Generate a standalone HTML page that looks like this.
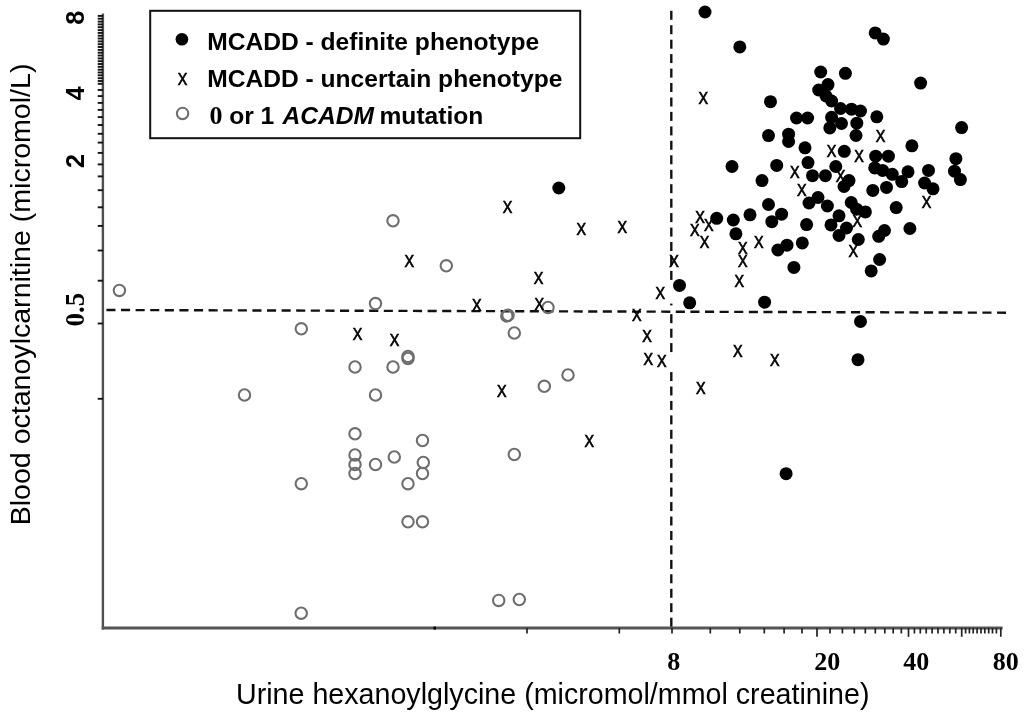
<!DOCTYPE html>
<html><head><meta charset="utf-8"><title>MCADD scatter plot</title>
<style>html,body{margin:0;padding:0;background:#fff}svg{display:block}.s{font-family:"Liberation Sans",sans-serif}.t{font-family:"Liberation Serif",serif;font-weight:bold}.b{font-family:"Liberation Sans",sans-serif;font-weight:bold}.x{font-family:"Liberation Sans",sans-serif;font-size:16.5px;text-anchor:middle;stroke:#000;stroke-width:.7px}</style></head><body>
<svg width="1024" height="716" viewBox="0 0 1024 716">
<rect width="1024" height="716" fill="#fff"/>
<path d="M102.9 13.6V629.4" stroke="#505050" stroke-width="2.4" fill="none"/>
<path d="M101.7 628.1H1002.6" stroke="#555" stroke-width="3" fill="none"/>
<g stroke="#151515" stroke-width="1.9">
<path d="M97.7 15.9H103"/>
<path d="M97.7 18.7H103"/>
<path d="M97.7 21.6H103"/>
<path d="M97.7 24.4H103"/>
<path d="M97.7 27.2H103"/>
<path d="M97.7 30.1H103"/>
<path d="M97.7 32.9H103"/>
<path d="M97.7 35.7H103"/>
<path d="M97.7 38.5H103"/>
<path d="M97.7 41.4H103"/>
<path d="M97.7 44.2H103"/>
<path d="M97.7 47.0H103"/>
<path d="M97.7 49.9H103"/>
<path d="M97.7 52.7H103"/>
<path d="M97.7 55.5H103"/>
<path d="M97.7 58.4H103"/>
<path d="M97.7 61.2H103"/>
<path d="M97.7 64.0H103"/>
<path d="M97.7 66.8H103"/>
<path d="M97.7 69.7H103"/>
<path d="M97.7 72.5H103"/>
<path d="M97.7 75.3H103"/>
<path d="M97.7 78.2H103"/>
<path d="M97.7 81.0H103"/>
<path d="M97.7 83.8H103"/>
<path d="M97.7 90.0H103"/>
<path d="M97.7 96.1H103"/>
<path d="M97.7 102.9H103"/>
<path d="M97.7 109.9H103"/>
<path d="M97.7 117.1H103"/>
<path d="M97.7 125.0H103"/>
<path d="M97.7 133.8H103"/>
<path d="M97.7 142.6H103"/>
<path d="M97.7 152.9H103"/>
<path d="M97.7 164.4H103"/>
<path d="M97.7 176.4H103"/>
<path d="M97.7 190.2H103"/>
<path d="M97.7 207.3H103"/>
<path d="M97.7 225.9H103"/>
<path d="M97.7 250.5H103"/>
<path d="M97.7 280.7H103"/>
<path d="M97.7 323.5H103"/>
<path d="M97.7 398.8H103"/>
</g>
<g stroke="#222" stroke-width="1.7">
<path d="M527.0 628V633.5"/>
<path d="M619.3 628V633.5"/>
<path d="M672.0 628V633.5"/>
<path d="M710.3 628V633.5"/>
<path d="M739.8 628V633.5"/>
<path d="M764.3 628V633.5"/>
<path d="M784.1 628V633.5"/>
<path d="M802.0 628V633.5"/>
<path d="M830.0 628V633.5"/>
<path d="M842.4 628V633.5"/>
<path d="M854.3 628V633.5"/>
<path d="M865.3 628V633.5"/>
<path d="M875.3 628V633.5"/>
<path d="M884.8 628V633.5"/>
<path d="M893.2 628V633.5"/>
<path d="M901.3 628V633.5"/>
<path d="M914.4 628V633.5"/>
<path d="M920.3 628V633.5"/>
<path d="M926.2 628V633.5"/>
<path d="M932.1 628V633.5"/>
<path d="M938.0 628V633.5"/>
<path d="M943.9 628V633.5"/>
<path d="M949.8 628V633.5"/>
<path d="M955.7 628V633.5"/>
<path d="M965.6 628V633.5"/>
<path d="M969.4 628V633.5"/>
<path d="M973.2 628V633.5"/>
<path d="M977.1 628V633.5"/>
<path d="M981.0 628V633.5"/>
<path d="M984.8 628V633.5"/>
<path d="M988.7 628V633.5"/>
<path d="M992.5 628V633.5"/>
<path d="M996.4 628V633.5"/>
<path d="M817.0 628V636.8"/>
<path d="M908.5 628V636.8"/>
<path d="M961.7 628V636.8"/>
<path d="M1000.8 628V636.8"/>
<path d="M434.7 626.6V629.6" stroke="#000" stroke-width="2.4"/>
</g>
<g stroke="#111" stroke-width="2.4" fill="none">
<path d="M106.4 310.0L1006 312.7" stroke-dasharray="9.1 5.5"/>
<path d="M671.3 10.8V19.8"/>
<path d="M671.3 25.2V34.2"/>
<path d="M671.3 39.7V48.7"/>
<path d="M671.3 54.1V63.1"/>
<path d="M671.3 68.6V77.6"/>
<path d="M671.3 83.0V92.0"/>
<path d="M671.3 97.5V106.5"/>
<path d="M671.3 111.9V120.9"/>
<path d="M671.3 126.4V135.4"/>
<path d="M671.3 140.8V149.8"/>
<path d="M671.3 155.3V164.3"/>
<path d="M671.3 169.8V178.8"/>
<path d="M671.3 184.2V193.2"/>
<path d="M671.3 198.7V207.7"/>
<path d="M671.3 213.1V222.1"/>
<path d="M671.3 227.6V236.6"/>
<path d="M671.3 242.0V251.0"/>
<path d="M671.3 256.4V265.4"/>
<path d="M671.3 270.9V279.9"/>
<path d="M671.3 314.2V323.2"/>
<path d="M671.3 328.7V337.7"/>
<path d="M671.3 343.1V352.1"/>
<path d="M671.3 372.1V381.1"/>
<path d="M671.3 386.5V395.5"/>
<path d="M671.3 400.9V409.9"/>
<path d="M671.3 415.4V424.4"/>
<path d="M671.3 429.8V438.8"/>
<path d="M671.3 444.3V453.3"/>
<path d="M671.3 458.8V467.8"/>
<path d="M671.3 473.2V482.2"/>
<path d="M671.3 487.6V496.6"/>
<path d="M671.3 502.1V511.1"/>
<path d="M671.3 516.5V525.5"/>
<path d="M671.3 531.0V540.0"/>
<path d="M671.3 545.4V554.4"/>
<path d="M671.3 559.9V568.9"/>
<path d="M671.3 574.3V583.3"/>
<path d="M671.3 588.8V597.8"/>
<path d="M671.3 603.2V612.2"/>
<path d="M671.3 617.7V626.7"/>
<path d="M671.3 303.6V305.4"/>
</g>
<rect x="150.2" y="10.8" width="430" height="127.4" fill="#fff" stroke="#111" stroke-width="2"/>
<circle cx="181.9" cy="39.2" r="6.3" fill="#000"/>
<text class="x" transform="translate(182.6 85.2) scale(.87 1)">X</text>
<circle cx="182.6" cy="113.4" r="5.7" fill="none" stroke="#6e6e6e" stroke-width="2.1"/>
<g class="b" font-size="24.6">
<text x="207.2" y="49.6">MCADD - definite phenotype</text>
<text x="207.2" y="86.8">MCADD - uncertain phenotype</text>
<text class="t" font-size="26" x="209.5" y="124">0</text>
<text x="229.2" y="124">or 1</text>
<text x="282.5" y="124" font-style="italic">ACADM</text>
<text x="379.5" y="124">mutation</text>
</g>
<text class="s" font-size="28.65" x="236" y="704.2">Urine hexanoylglycine (micromol/mmol creatinine)</text>
<text class="s" font-size="28.55" transform="translate(29.5 525.3) rotate(-90)">Blood octanoylcarnitine (micromol/L)</text>
<text class="b" font-size="25.3" text-anchor="middle" transform="translate(83.9 17.6) rotate(-90)">8</text>
<text class="b" font-size="25.3" text-anchor="middle" transform="translate(83.9 93.5) rotate(-90)">4</text>
<text class="b" font-size="25.3" text-anchor="middle" transform="translate(83.9 161) rotate(-90)">2</text>
<text class="t" font-size="27" text-anchor="middle" transform="translate(84.2 309.6) rotate(-90)">0.5</text>
<text class="t" font-size="26" text-anchor="middle" x="673.8" y="669.8">8</text>
<text class="t" font-size="26" text-anchor="middle" x="827.2" y="669.8">20</text>
<text class="t" font-size="26" text-anchor="middle" x="916.2" y="669.8">40</text>
<text class="t" font-size="26" text-anchor="middle" x="1005.8" y="669.8">80</text>
<g fill="none" stroke="#6e6e6e" stroke-width="2.1">
<circle cx="119.4" cy="290.4" r="5.7"/>
<circle cx="301.3" cy="328.8" r="5.7"/>
<circle cx="393" cy="220.8" r="5.7"/>
<circle cx="446.3" cy="265.8" r="5.7"/>
<circle cx="375.5" cy="303.6" r="5.7"/>
<circle cx="508" cy="315.3" r="5.7"/>
<circle cx="506.8" cy="315.9" r="5.7"/>
<circle cx="548" cy="307.5" r="5.7"/>
<circle cx="514.3" cy="333" r="5.7"/>
<circle cx="568" cy="375" r="5.7"/>
<circle cx="544.3" cy="386.3" r="5.7"/>
<circle cx="514.3" cy="454.5" r="5.7"/>
<circle cx="355" cy="367" r="5.7"/>
<circle cx="393" cy="367" r="5.7"/>
<circle cx="408" cy="356.5" r="5.7"/>
<circle cx="408" cy="358.5" r="5.7"/>
<circle cx="244.5" cy="395" r="5.7"/>
<circle cx="375.5" cy="395" r="5.7"/>
<circle cx="355" cy="433.8" r="5.7"/>
<circle cx="422.5" cy="440.5" r="5.7"/>
<circle cx="355" cy="455" r="5.7"/>
<circle cx="355" cy="464.5" r="5.7"/>
<circle cx="355" cy="473.5" r="5.7"/>
<circle cx="375.5" cy="464.5" r="5.7"/>
<circle cx="394.3" cy="457" r="5.7"/>
<circle cx="423.3" cy="462.5" r="5.7"/>
<circle cx="422.5" cy="473.5" r="5.7"/>
<circle cx="301.3" cy="483.7" r="5.7"/>
<circle cx="408" cy="483.7" r="5.7"/>
<circle cx="408" cy="521.8" r="5.7"/>
<circle cx="422.5" cy="521.8" r="5.7"/>
<circle cx="301.2" cy="613.2" r="5.7"/>
<circle cx="498.7" cy="600.4" r="5.7"/>
<circle cx="519.3" cy="599.5" r="5.7"/>
</g>
<g fill="#000">
<text class="x" transform="translate(703.4 104.3) scale(.87 1)">X</text>
<text class="x" transform="translate(880.6 142.0) scale(.87 1)">X</text>
<text class="x" transform="translate(831.5 157.3) scale(.87 1)">X</text>
<text class="x" transform="translate(859 162.2) scale(.87 1)">X</text>
<text class="x" transform="translate(794.9 177.8) scale(.87 1)">X</text>
<text class="x" transform="translate(840.6 181.7) scale(.87 1)">X</text>
<text class="x" transform="translate(801.7 196.0) scale(.87 1)">X</text>
<text class="x" transform="translate(700 222.8) scale(.87 1)">X</text>
<text class="x" transform="translate(708.9 231.2) scale(.87 1)">X</text>
<text class="x" transform="translate(694.8 235.5) scale(.87 1)">X</text>
<text class="x" transform="translate(704.6 247.8) scale(.87 1)">X</text>
<text class="x" transform="translate(758.7 247.5) scale(.87 1)">X</text>
<text class="x" transform="translate(742.7 254.0) scale(.87 1)">X</text>
<text class="x" transform="translate(742.7 267.0) scale(.87 1)">X</text>
<text class="x" transform="translate(857.3 226.7) scale(.87 1)">X</text>
<text class="x" transform="translate(853.4 257.0) scale(.87 1)">X</text>
<text class="x" transform="translate(674 266.6) scale(.87 1)">X</text>
<text class="x" transform="translate(622.2 233.2) scale(.87 1)">X</text>
<text class="x" transform="translate(926.6 207.7) scale(.87 1)">X</text>
<text class="x" transform="translate(739.2 287.4) scale(.87 1)">X</text>
<text class="x" transform="translate(660.4 298.8) scale(.87 1)">X</text>
<text class="x" transform="translate(737.8 356.5) scale(.87 1)">X</text>
<text class="x" transform="translate(774.8 366.2) scale(.87 1)">X</text>
<text class="x" transform="translate(661.8 367.0) scale(.87 1)">X</text>
<text class="x" transform="translate(700.8 393.6) scale(.87 1)">X</text>
<text class="x" transform="translate(507.5 213.0) scale(.87 1)">X</text>
<text class="x" transform="translate(581.3 235.0) scale(.87 1)">X</text>
<text class="x" transform="translate(409.3 266.8) scale(.87 1)">X</text>
<text class="x" transform="translate(538.5 284.0) scale(.87 1)">X</text>
<text class="x" transform="translate(476.8 311.0) scale(.87 1)">X</text>
<text class="x" transform="translate(539.4 309.8) scale(.87 1)">X</text>
<text class="x" transform="translate(357.5 339.8) scale(.87 1)">X</text>
<text class="x" transform="translate(394.5 345.5) scale(.87 1)">X</text>
<text class="x" transform="translate(636.8 320.7) scale(.87 1)">X</text>
<text class="x" transform="translate(647.1 341.6) scale(.87 1)">X</text>
<text class="x" transform="translate(648.3 365.2) scale(.87 1)">X</text>
<text class="x" transform="translate(501.8 397.3) scale(.87 1)">X</text>
<text class="x" transform="translate(589.3 447.3) scale(.87 1)">X</text>
</g>
<g fill="#000">
<circle cx="705" cy="12" r="6.5"/>
<circle cx="739.8" cy="46.9" r="6.5"/>
<circle cx="820.7" cy="72" r="6.5"/>
<circle cx="845.4" cy="73.3" r="6.5"/>
<circle cx="828" cy="84.6" r="6.5"/>
<circle cx="818.7" cy="90" r="6.5"/>
<circle cx="826" cy="96" r="6.5"/>
<circle cx="831.6" cy="101" r="6.5"/>
<circle cx="840.5" cy="108.5" r="6.5"/>
<circle cx="851.5" cy="109.2" r="6.5"/>
<circle cx="860.5" cy="111" r="6.5"/>
<circle cx="770.5" cy="101.7" r="6.5"/>
<circle cx="796.5" cy="118" r="6.5"/>
<circle cx="807.6" cy="118" r="6.5"/>
<circle cx="831.6" cy="117.3" r="6.5"/>
<circle cx="841.5" cy="123.5" r="6.5"/>
<circle cx="829.8" cy="127.9" r="6.5"/>
<circle cx="856.8" cy="123.2" r="6.5"/>
<circle cx="768.5" cy="135.6" r="6.5"/>
<circle cx="788.6" cy="134.2" r="6.5"/>
<circle cx="788.6" cy="141.5" r="6.5"/>
<circle cx="856" cy="135.5" r="6.5"/>
<circle cx="875.2" cy="32.9" r="6.5"/>
<circle cx="883.4" cy="39.1" r="6.5"/>
<circle cx="920.6" cy="83.1" r="6.5"/>
<circle cx="876.8" cy="116.8" r="6.5"/>
<circle cx="961.6" cy="127.6" r="6.5"/>
<circle cx="805" cy="147.8" r="6.5"/>
<circle cx="844.3" cy="151.3" r="6.5"/>
<circle cx="732" cy="166.5" r="6.5"/>
<circle cx="776.7" cy="165.4" r="6.5"/>
<circle cx="808" cy="162.6" r="6.5"/>
<circle cx="835.8" cy="166.5" r="6.5"/>
<circle cx="812.5" cy="175.7" r="6.5"/>
<circle cx="825.4" cy="175.7" r="6.5"/>
<circle cx="849" cy="180.6" r="6.5"/>
<circle cx="844" cy="186.5" r="6.5"/>
<circle cx="762" cy="180.6" r="6.5"/>
<circle cx="818" cy="197.5" r="6.5"/>
<circle cx="809" cy="203" r="6.5"/>
<circle cx="827.4" cy="206" r="6.5"/>
<circle cx="851.2" cy="202.5" r="6.5"/>
<circle cx="856.6" cy="209.2" r="6.5"/>
<circle cx="768.5" cy="204.5" r="6.5"/>
<circle cx="781.6" cy="214.2" r="6.5"/>
<circle cx="771.8" cy="221.7" r="6.5"/>
<circle cx="750" cy="214.8" r="6.5"/>
<circle cx="733.3" cy="220" r="6.5"/>
<circle cx="716.7" cy="218.3" r="6.5"/>
<circle cx="735.9" cy="233.8" r="6.5"/>
<circle cx="806.6" cy="224.6" r="6.5"/>
<circle cx="839" cy="215.8" r="6.5"/>
<circle cx="831" cy="224.9" r="6.5"/>
<circle cx="846.5" cy="228" r="6.5"/>
<circle cx="839" cy="235.5" r="6.5"/>
<circle cx="858.3" cy="239.5" r="6.5"/>
<circle cx="802.3" cy="242.9" r="6.5"/>
<circle cx="787" cy="245.2" r="6.5"/>
<circle cx="777.9" cy="250" r="6.5"/>
<circle cx="911.9" cy="145.8" r="6.5"/>
<circle cx="875.7" cy="156.2" r="6.5"/>
<circle cx="888.4" cy="156.2" r="6.5"/>
<circle cx="874.7" cy="167.9" r="6.5"/>
<circle cx="882.6" cy="170.4" r="6.5"/>
<circle cx="892.3" cy="174.3" r="6.5"/>
<circle cx="908" cy="171.8" r="6.5"/>
<circle cx="928.5" cy="170.4" r="6.5"/>
<circle cx="955.9" cy="158.7" r="6.5"/>
<circle cx="954.5" cy="171.2" r="6.5"/>
<circle cx="960.4" cy="179.6" r="6.5"/>
<circle cx="901.7" cy="181.6" r="6.5"/>
<circle cx="924.6" cy="183" r="6.5"/>
<circle cx="933" cy="188.8" r="6.5"/>
<circle cx="886.5" cy="187.4" r="6.5"/>
<circle cx="872.8" cy="190.4" r="6.5"/>
<circle cx="865.4" cy="211.9" r="6.5"/>
<circle cx="896.2" cy="207.6" r="6.5"/>
<circle cx="884.5" cy="230.5" r="6.5"/>
<circle cx="878.7" cy="236.3" r="6.5"/>
<circle cx="909.9" cy="228.5" r="6.5"/>
<circle cx="879.6" cy="259.5" r="6.5"/>
<circle cx="871.2" cy="270.9" r="6.5"/>
<circle cx="793.9" cy="267.4" r="6.5"/>
<circle cx="679.5" cy="285.4" r="6.5"/>
<circle cx="689.7" cy="302.8" r="6.5"/>
<circle cx="764.6" cy="302.2" r="6.5"/>
<circle cx="860.5" cy="321.5" r="6.5"/>
<circle cx="858" cy="359.7" r="6.5"/>
<circle cx="786.1" cy="473.7" r="6.5"/>
<circle cx="558.8" cy="188" r="6.5"/>
</g>
</svg></body></html>
